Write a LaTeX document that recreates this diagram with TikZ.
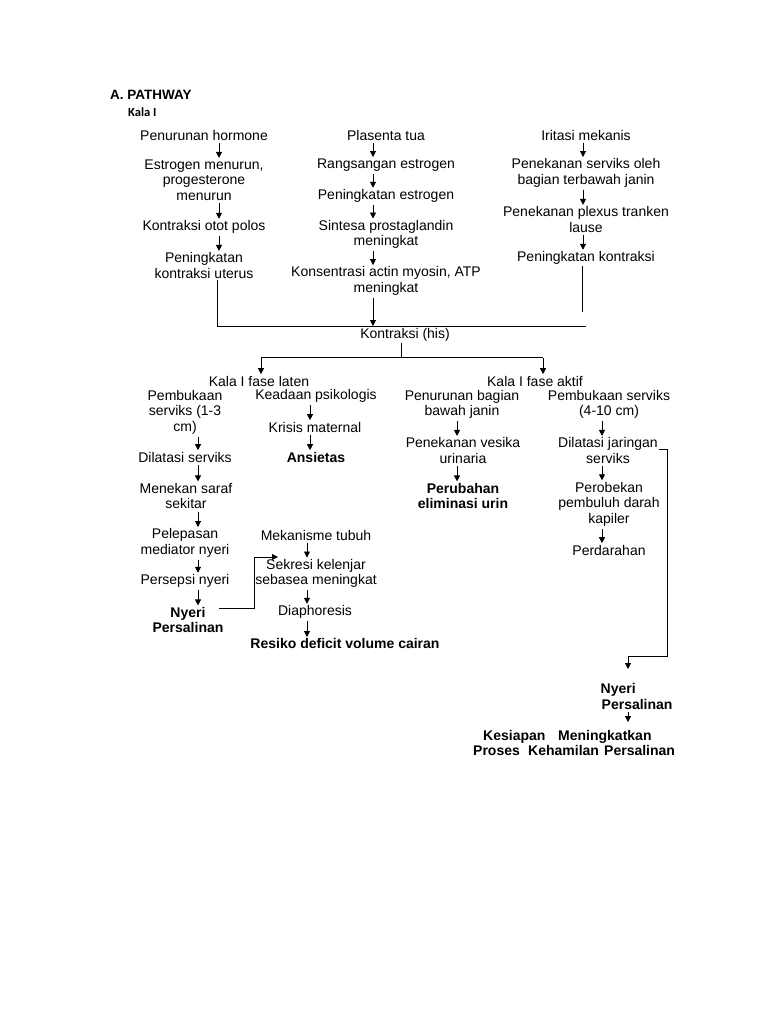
\documentclass[tikz,border=0pt]{standalone}
\usepackage{fontspec}
\setmainfont{Liberation Sans}
\newfontfamily\calib{Carlito}
\usetikzlibrary{arrows.meta,calc}
\begin{document}
\begin{tikzpicture}[x=1pt,y=-1pt,
  txt/.style={font=\fontsize{14}{15.5}\selectfont, align=center, inner sep=1.5pt},
  btxt/.style={font=\fontsize{14}{15.5}\selectfont\bfseries, align=center, inner sep=1.5pt},
  arr/.style={-{Triangle[length=6pt,width=6pt]}, line width=0.9pt, shorten <=1pt},
  ln/.style={line width=0.9pt}]
\useasboundingbox (0,0) rectangle (768,1024);
\fill[white] (0,0) rectangle (768,1024);

% titles
\node[anchor=west, inner sep=0pt, font=\fontsize{13.5}{15}\selectfont\bfseries] (title) at (110,95) {A. PATHWAY};
\node[anchor=west, inner sep=0pt, font=\calib\fontsize{12.5}{14}\selectfont\bfseries] (kala) at (128,112) {Kala I};

% column coordinates
\coordinate (A1) at (219,0);
\coordinate (A2) at (373,0);
\coordinate (A3) at (583,0);
\coordinate (V3) at (582,312);
\coordinate (HL) at (217,326);
\coordinate (HR) at (586,326);

% column 1
\node[txt] (p1) at (204,135) {Penurunan hormone};
\node[txt] (p2) at (204,180) {Estrogen menurun,\\progesterone\\menurun};
\node[txt] (p3) at (204,227) {Kontraksi otot polos};
\node[txt] (p4) at (204,265.5) {Peningkatan\\kontraksi uterus};
\draw[arr] (p1.south -| A1) -- (p2.north -| A1);
\draw[arr] (p2.south -| A1) -- (p3.north -| A1);
\draw[arr] (p3.south -| A1) -- (p4.north -| A1);

% column 2
\node[txt] (q1) at (386,135) {Plasenta tua};
\node[txt] (q2) at (386,165) {Rangsangan estrogen};
\node[txt] (q3) at (386,196) {Peningkatan estrogen};
\node[txt] (q4) at (386,234.5) {Sintesa prostaglandin\\meningkat};
\node[txt] (q5) at (386,281) {Konsentrasi actin myosin, ATP\\meningkat};
\draw[arr] (q1.south -| A2) -- (q2.north -| A2);
\draw[arr] (q2.south -| A2) -- (q3.north -| A2);
\draw[arr] (q3.south -| A2) -- (q4.north -| A2);
\draw[arr] (q4.south -| A2) -- (q5.north -| A2);

% column 3
\node[txt] (r1) at (586,135) {Iritasi mekanis};
\node[txt] (r2) at (586,173) {Penekanan serviks oleh\\bagian terbawah janin};
\node[txt] (r3) at (586,219.5) {Penekanan plexus tranken\\lause};
\node[txt] (r4) at (586,258) {Peningkatan kontraksi};
\draw[arr] (r1.south -| A3) -- (r2.north -| A3);
\draw[arr] (r2.south -| A3) -- (r3.north -| A3);
\draw[arr] (r3.south -| A3) -- (r4.north -| A3);

% joining
\draw[ln] (p4.south -| HL) -- (HL) -- (HR);
\draw[ln] (r4.south -| V3) -- (V3);
\draw[arr] (q5.south -| A2) -- (A2 |- HL);

\node[txt] (k) at (405,335) {Kontraksi (his)};
\coordinate (KS) at (401,357);
\coordinate (BL) at (261,357);
\coordinate (BR) at (543,357);
\draw[ln] (k.south -| KS) -- (KS);
\draw[ln] (BL) -- (BR);

\node[txt] (lat) at (259,381) {Kala I fase laten};
\node[txt] (akt) at (535,381) {Kala I fase aktif};
\draw[arr] (BL) -- (lat.north -| BL);
\draw[arr] (BR) -- (akt.north -| BR);

% laten branch, left
\coordinate (B1) at (198,0);
\node[txt] (a1) at (185,412) {Pembukaan\\serviks (1-3\\cm)};
\node[txt] (a2) at (185,457) {Dilatasi serviks};
\node[txt] (a3) at (186,496) {Menekan saraf\\sekitar};
\node[txt] (a4) at (185,543) {Pelepasan\\mediator nyeri};
\node[txt] (a5) at (185,581) {Persepsi nyeri};
\node[btxt] (a6) at (188,620) {Nyeri\\Persalinan};
\draw[arr] (a1.south -| B1) -- (a2.north -| B1);
\draw[arr] (a2.south -| B1) -- (a3.north -| B1);
\draw[arr] (a3.south -| B1) -- (a4.north -| B1);
\draw[arr] (a4.south -| B1) -- (a5.north -| B1);
\draw[arr] (a5.south -| B1) -- (a6.north -| B1);

% laten branch, middle
\coordinate (B2) at (310,0);
\node[txt] (b1) at (316,396) {Keadaan psikologis};
\node[txt] (b2) at (315,427) {Krisis maternal};
\node[btxt] (b3) at (316,457) {Ansietas};
\draw[arr] (b1.south -| B2) -- (b2.north -| B2);
\draw[arr] (b2.south -| B2) -- (b3.north -| B2);

\coordinate (B3) at (307,0);
\node[txt] (c1) at (316,535) {Mekanisme tubuh};
\node[txt] (c2) at (316,573.5) {Sekresi kelenjar\\sebasea meningkat};
\node[txt] (c3) at (315,612) {Diaphoresis};
\node[btxt] (c4) at (345,643) {Resiko deficit volume cairan};
\draw[arr] (c1.south -| B3) -- (c2.north -| B3);
\draw[arr] (c2.south -| B3) -- (c3.north -| B3);
\coordinate (C4t) at (307,637);
\draw[arr] (c3.south -| B3) -- (C4t);

\coordinate (N1) at (218,608);
\coordinate (N2) at (254,608);
\coordinate (N3) at (254,557);
\coordinate (N4) at (278,557);
\draw[arr] (N1) -- (N2) -- (N3) -- (N4);

% aktif branch, left
\coordinate (D1) at (457,0);
\node[txt] (d1) at (462,404.5) {Penurunan bagian\\bawah janin};
\node[txt] (d2) at (463,450.5) {Penekanan vesika\\urinaria};
\node[btxt] (d3) at (463,496) {Perubahan\\eliminasi urin};
\draw[arr] (d1.south -| D1) -- (d2.north -| D1);
\draw[arr] (d2.south -| D1) -- (d3.north -| D1);

% aktif branch, right
\coordinate (E1) at (602,0);
\node[txt] (e1) at (609,404.5) {Pembukaan serviks\\(4-10 cm)};
\node[txt] (e2) at (608,450.5) {Dilatasi jaringan\\serviks};
\node[txt] (e3) at (609,504) {Perobekan\\pembuluh darah\\kapiler};
\node[txt] (e4) at (609,550) {Perdarahan};
\draw[arr] (e1.south -| E1) -- (e2.north -| E1);
\draw[arr] (e2.south -| E1) -- (e3.north -| E1);
\draw[arr] (e3.south -| E1) -- (e4.north -| E1);

\coordinate (R1) at (658,449);
\coordinate (R2) at (667,449);
\coordinate (R3) at (667,656);
\coordinate (R4) at (628,656);
\coordinate (R5) at (628,669);
\draw[arr] (R1) -- (R2) -- (R3) -- (R4) -- (R5);

% bottom
\node[btxt, anchor=west, align=left] (f1) at (599,696.5) {Nyeri\\\hspace*{1pt}Persalinan};
\coordinate (F1) at (628,0);
\draw[arr] (f1.south -| F1) -- ++(0,11);

\node[btxt, anchor=base west, inner sep=0pt] (g1) at (483,740) {Kesiapan};
\node[btxt, anchor=base west, inner sep=0pt] (g2) at (558,740) {Meningkatkan};
\node[btxt, anchor=base west, inner sep=0pt] (g3) at (473,755) {Proses};
\node[btxt, anchor=base west, inner sep=0pt] (g4) at (528,755) {Kehamilan};
\node[btxt, anchor=base west, inner sep=0pt] (g5) at (604,755) {Persalinan};
\end{tikzpicture}
\end{document}
